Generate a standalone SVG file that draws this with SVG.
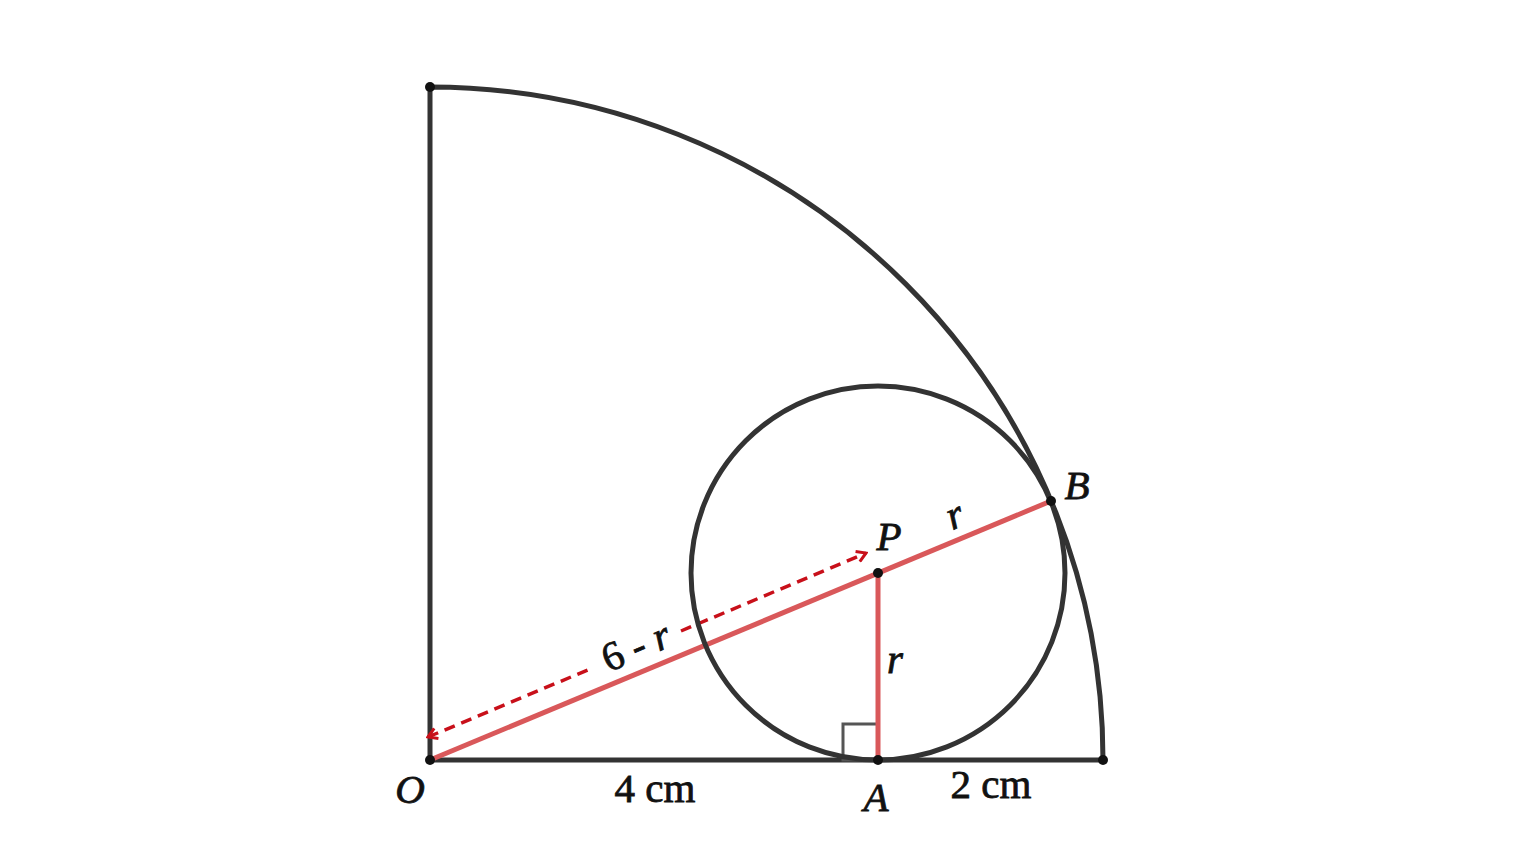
<svg xmlns="http://www.w3.org/2000/svg" width="1536" height="864" viewBox="0 0 1536 864">
<style>
.blk{fill:none;stroke:#333;stroke-width:5}
.red{stroke:#d9585a;stroke-width:5;fill:none}
.dash{stroke:#c8101a;stroke-width:3.5;fill:none;stroke-dasharray:11 7}
.dot{fill:#111}
text{font-family:"Liberation Serif","DejaVu Serif",serif;font-size:41px;fill:#111;stroke:#111;stroke-width:0.8}
.it{font-style:italic}
</style>
<defs>
<marker id="ah" viewBox="0 0 14 14" refX="12" refY="7" markerWidth="14" markerHeight="14" markerUnits="userSpaceOnUse" orient="auto-start-reverse">
<path d="M3,1.5 L12,7 L3,12.5" fill="none" stroke="#c8101a" stroke-width="3"/>
</marker>
</defs>
<rect width="1536" height="864" fill="#fff"/>
<g id="connectors">
<path class="blk" d="M430,760 L430,87 A673,673 0 0 1 1103,760 Z"/>
<rect x="843" y="724" width="35" height="36" fill="none" stroke="#555" stroke-width="3"/>
<line class="red" x1="430" y1="760" x2="1051" y2="501"/>
<line class="red" x1="878" y1="573" x2="878" y2="760"/>
<line class="dash" x1="428" y1="737" x2="590" y2="669" marker-start="url(#ah)"/>
<line class="dash" x1="681" y1="631" x2="866" y2="553" marker-end="url(#ah)"/>
</g>
<g id="circle">
<circle cx="878" cy="573" r="187" fill="none" stroke="#333" stroke-width="5"/>
</g>
<g id="points">
<circle class="dot" cx="430" cy="760" r="5"/>
<circle class="dot" cx="430" cy="87" r="5"/>
<circle class="dot" cx="1103" cy="760" r="5"/>
<circle class="dot" cx="878" cy="760" r="5"/>
<circle class="dot" cx="878" cy="573" r="5"/>
<circle class="dot" cx="1051" cy="501" r="5"/>
</g>
<g id="labels">
<text class="it" x="410" y="803" text-anchor="middle">O</text>
<text x="655" y="802" text-anchor="middle">4 cm</text>
<text class="it" x="876" y="811" text-anchor="middle">A</text>
<text x="991" y="798" text-anchor="middle">2 cm</text>
<text class="it" x="1077" y="499" text-anchor="middle">B</text>
<text class="it" x="889" y="550" text-anchor="middle">P</text>
<text class="it" x="895" y="673" text-anchor="middle">r</text>
<text class="it" x="955" y="528" text-anchor="middle" transform="rotate(-22.65 955 516)">r</text>
<text x="636" y="660" text-anchor="middle" transform="rotate(-22.65 636 647)"><tspan>6 - </tspan><tspan class="it">r</tspan></text>
</g>
</svg>
